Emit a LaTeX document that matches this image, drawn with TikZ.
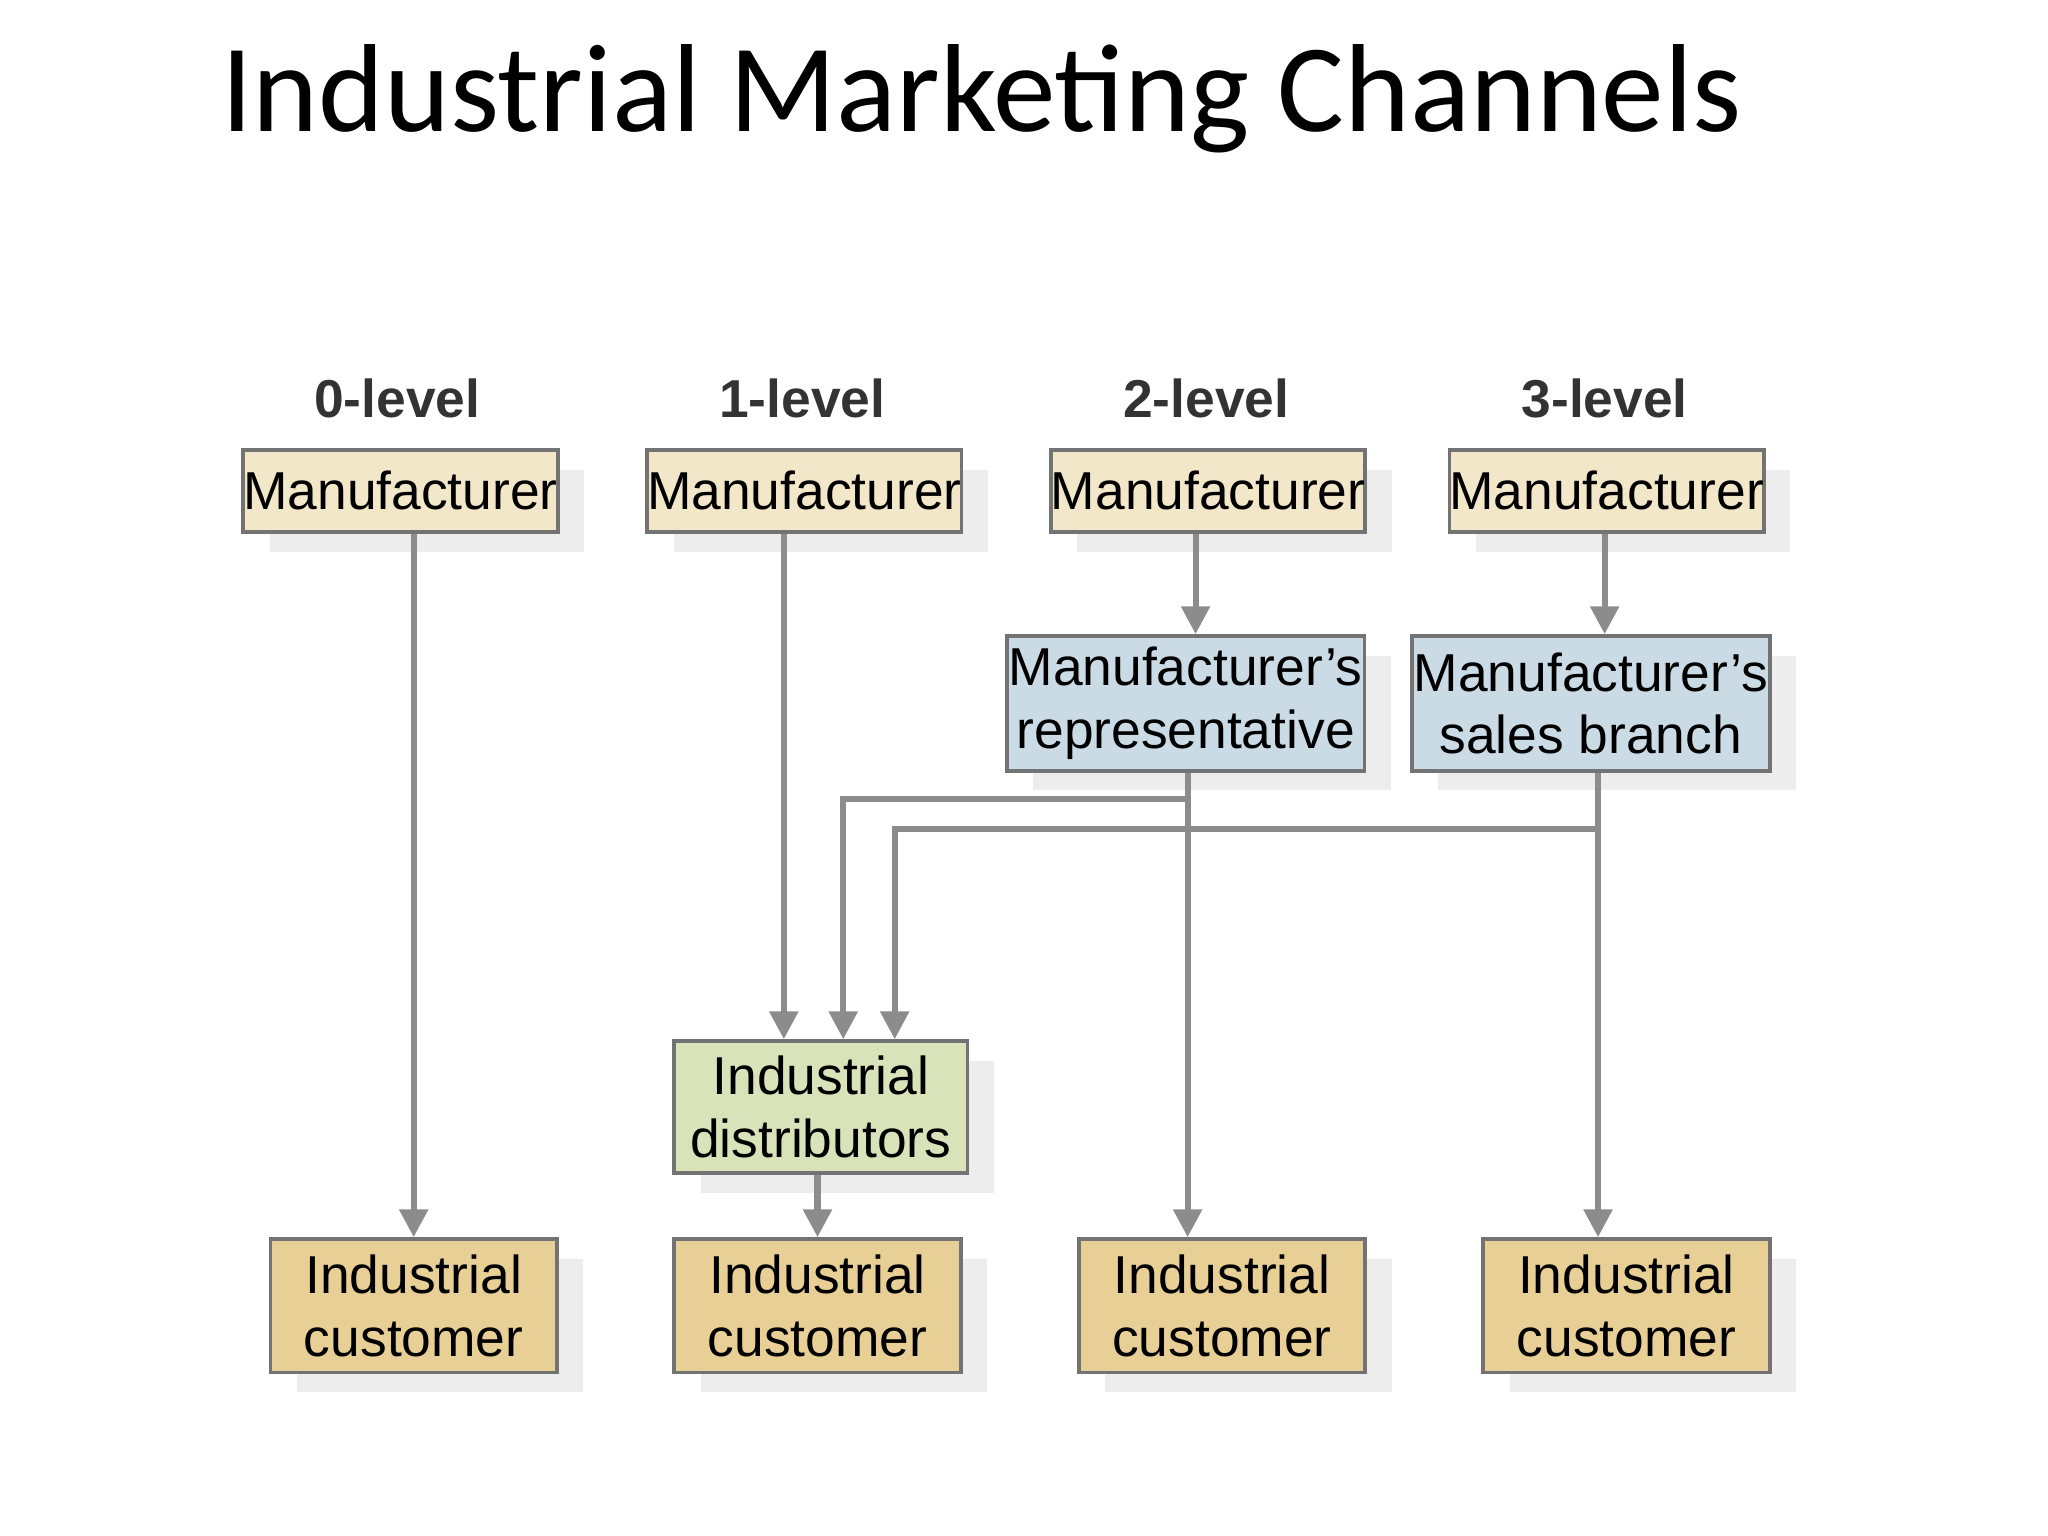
\documentclass[tikz,border=0pt]{standalone}
\usepackage{fontspec}
\setmainfont{Liberation Sans}
\newfontfamily\titlefont{Carlito}
\usetikzlibrary{calc,shadows,arrows.meta}
\definecolor{manfill}{HTML}{F3E7C9}
\definecolor{repfill}{HTML}{CADBE5}
\definecolor{distfill}{HTML}{D9E3BA}
\definecolor{custfill}{HTML}{E8CF95}
\definecolor{arrgray}{HTML}{8C8C8C}
\tikzset{
  box/.style={draw=black!55, line width=0.8pt, align=center, inner sep=0pt,
    font=\fontsize{11.5}{13.5}\selectfont,
    general shadow={fill=black!7, shadow xshift=0.2cm, shadow yshift=-0.15cm}},
  man/.style={box, fill=manfill, minimum width=2.37cm, minimum height=0.62cm},
  mid/.style={box, minimum width=2.71cm, minimum height=1.02cm},
  cust/.style={box, fill=custfill, minimum width=2.17cm, minimum height=1.01cm},
  lvl/.style={font=\bfseries\fontsize{11.5}{13}\selectfont, text=black!80},
  arr/.style={draw=arrgray, line width=1.3pt, -{Triangle[length=6pt,width=6pt]}}
}
\begin{document}
\begin{tikzpicture}[x=0.01cm,y=-0.01cm]
  \useasboundingbox (0,0) rectangle (1552,1164);
  % Title
  \node[font=\titlefont\fontsize{27}{30}\selectfont] (title) at (744,75) {Industrial Marketing Channels};
  % Level headings
  \node[lvl] (l0) at (301,302) {0-level};
  \node[lvl] (l1) at (608,302) {1-level};
  \node[lvl] (l2) at (914,302) {2-level};
  \node[lvl] (l3) at (1216,302) {3-level};
  % Manufacturers
  \node[man] (m0) at (303.5,372) {Manufacturer};
  \node[man] (m1) at (609.5,372) {Manufacturer};
  \node[man] (m2) at (915.5,372) {Manufacturer};
  \node[man] (m3) at (1217.5,372) {Manufacturer};
  % Intermediaries
  \node[mid, fill=repfill] (rep) at (898.5,533) {Manufacturer's\\representative};
  \node[mid, fill=repfill] (br) at (1205.5,533) {Manufacturer's\\sales branch};
  \node[box, fill=distfill, minimum width=2.22cm, minimum height=1.0cm] (dist) at (622,839) {Industrial\\distributors};
  % Customers
  \node[cust] (c0) at (313.5,989.5) {Industrial\\customer};
  \node[cust] (c1) at (619.5,989.5) {Industrial\\customer};
  \node[cust] (c2) at (926,989.5) {Industrial\\customer};
  \node[cust] (c3) at (1232.5,989.5) {Industrial\\customer};
  % Coordinates for connectors
  \coordinate (d1) at ($(dist.north)+(-28,0)$);
  \coordinate (d2) at ($(dist.north)+(17,0)$);
  \coordinate (d3) at ($(dist.north)+(56,0)$);
  \coordinate (r0) at ($(rep.south)+(1.5,0)$);
  \coordinate (b0) at ($(br.south)+(5.5,0)$);
  % Connectors
  \draw[arr] (c0.north |- m0.south) -- (c0.north);
  \draw[arr] (d1 |- m1.south) -- (d1);
  \draw[arr] ($(m2.south)+(-9.5,0)$) -- ($(rep.north)+(7.5,0)$);
  \draw[arr] ($(m3.south)+(-1.5,0)$) -- ($(br.north)+(10.5,0)$);
  \draw[arr] (r0) -- (r0 |- c2.north);
  \draw[arr] ($(r0)+(-2,20)$) -| (d2);
  \draw[arr] (b0) -- (b0 |- c3.north);
  \draw[arr] ($(b0)+(0,43)$) -| (d3);
  \draw[arr] (dist.south -| c1.north) -- (c1.north);
\end{tikzpicture}
\end{document}
